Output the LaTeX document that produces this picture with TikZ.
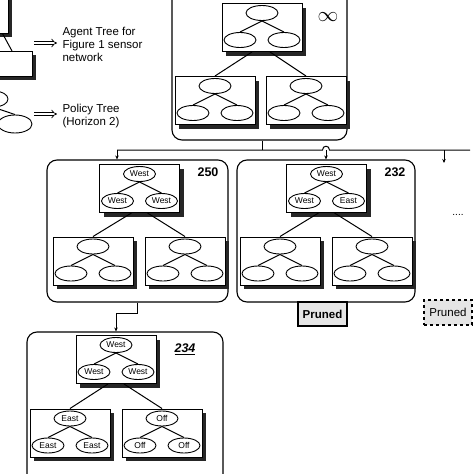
\documentclass[tikz,border=0pt]{standalone}
\usepackage{fontspec}
\setmainfont{Liberation Sans}
\usetikzlibrary{shapes.geometric,shadows,calc,arrows.meta}

\tikzset{
  tbox/.style={draw,line width=1pt,fill=white,minimum width=80pt,minimum height=48pt,
    drop shadow={shadow xshift=4pt,shadow yshift=-4pt,fill=black!85,opacity=1}},
  leaf/.style={draw,ellipse,line width=0.9pt,fill=white,minimum width=32pt,minimum height=15pt,
    inner sep=0.3pt,font=\fontsize{8.5}{8.5}\selectfont},
  grp/.style={draw,line width=1.1pt,rounded corners=10pt,fill=white},
  glabel/.style={font=\fontsize{12.5}{13}\selectfont\bfseries},
  pruned/.style={draw,fill=black!10,minimum width=49pt,minimum height=24pt,inner sep=0pt,
    font=\fontsize{11.5}{12}\selectfont},
  legend/.style={anchor=north west,align=left,inner sep=0pt,font=\fontsize{11.5}{13}\selectfont},
  hollow/.style={double,double distance=2.2pt,line width=0.7pt,-{Implies}},
}

% one policy box: name, centre, top, left, right
\newcommand{\ptree}[5]{%
  \node[tbox] (#1) at (#2) {};
  \node[leaf] (#1-t) at ($(#1.north)+(0,10)$) {#3};
  \node[leaf] (#1-l) at ($(#1.north)+(-22,37)$) {#4};
  \node[leaf] (#1-r) at ($(#1.north)+(22,37)$) {#5};
  \draw (#1-t.south) -- (#1-l.north);
  \draw (#1-t.south) -- (#1-r.north);
}

\begin{document}
\begin{tikzpicture}[x=1pt,y=-1pt,line width=1pt,>={Stealth[length=4pt,width=3.5pt]}]
  \useasboundingbox (0,0) rectangle (474,474);
  \clip (0,0) rectangle (474,474);

  % legend
  \node[tbox,minimum width=56pt,minimum height=42pt] (lgtop) at (-20,12) {};
  \coordinate (lgl) at (12,51);
  \draw ([xshift=-6pt]lgtop.south east) -- (lgl);
  \node[tbox,minimum width=40pt,minimum height=25pt] (lgbot) at (12,63.5) {};
  \node[leaf,minimum width=28pt,minimum height=16pt] (lpt) at (-6,99) {};
  \node[leaf,minimum width=34pt,minimum height=18pt] (lpr) at (15,124) {};
  \node[leaf,minimum width=34pt,minimum height=18pt] (lpl) at (-30,124) {};
  \draw (lpt.south) -- (lpr.north);
  \draw (lpt.south) -- (lpl.north);
  \coordinate (a1) at (34,43);
  \coordinate (a2) at (57,43);
  \coordinate (b1) at (34,114);
  \coordinate (b2) at (57,114);
  \draw[hollow] (a1) -- (a2);
  \draw[hollow] (b1) -- (b2);
  \node[legend] (lagent) at (62,26.5) {Agent Tree for\\Figure 1 sensor\\network};
  \node[legend] (lpolicy) at (62,103.5) {Policy Tree\\(Horizon 2)};

  % root
  \node[grp,minimum width=175pt,minimum height=150pt] (root) at (259.5,65) {};
  \node[inner sep=0pt] (linf) at (328,17) {\fontsize{21}{21}\selectfont$\infty$};
  \ptree{rt}{262,27.5}{}{}{}
  \ptree{rl}{215,100.5}{}{}{}
  \ptree{rr}{306,100.5}{}{}{}
  \draw ([xshift=-10pt]rt.south) -- (rl.north);
  \draw ([xshift=8pt]rt.south) -- (rr.north);

  % 250
  \node[grp,minimum width=181pt,minimum height=142pt] (g250) at (137.5,231) {};
  \node[glabel] (l250) at (208,172) {250};
  \ptree{at}{139.5,188.5}{West}{West}{West}
  \ptree{al}{93,261}{}{}{}
  \ptree{ar}{185,261}{}{}{}
  \draw ([xshift=-8pt]at.south) -- (al.north);
  \draw ([xshift=8pt]at.south) -- (ar.north);

  % 232
  \node[grp,minimum width=178pt,minimum height=142pt] (g232) at (326,231) {};
  \node[glabel] (l232) at (395,172) {232};
  \ptree{bt}{326.5,188.5}{West}{West}{East}
  \ptree{bl}{280,261}{}{}{}
  \ptree{br}{372,261}{}{}{}
  \draw ([xshift=-8pt]bt.south) -- (bl.north);
  \draw ([xshift=8pt]bt.south) -- (br.north);
  \node[pruned,line width=1.2pt,font=\fontsize{11.5}{12}\selectfont\bfseries] (pr) at (322.5,314) {Pruned};
  \node[pruned,dashed,line width=1.2pt,minimum width=48pt,minimum height=25pt] (prd) at (448,312.5) {Pruned};
  \node[font=\fontsize{10}{10}\selectfont] (dots) at (458,215) {....};

  % 234
  \node[grp,minimum width=196pt,minimum height=158pt] (g234) at (125,411) {};
  \node[glabel] (l234) at (185,349) {\underline{\textit{234}}};
  \ptree{ct}{116,359.5}{West}{West}{West}
  \ptree{cl}{70,433}{East}{East}{East}
  \ptree{cr}{162,433}{Off}{Off}{Off}
  \draw ([xshift=-8pt]ct.south) -- (cl.north);
  \draw ([xshift=8pt]ct.south) -- (cr.north);

  % connectors
  \coordinate (bus) at (262,150);
  \coordinate (bw) at (117,150);
  \coordinate (be) at (470,150);
  \coordinate (hop) at (326,150);
  \coordinate (bx) at (444,150);
  \coordinate (bxe) at (444,163);
  \draw (bus |- root.south) -- (bus);
  \draw (bw) -- ($(hop)+(-3.5,0)$) .. controls ($(hop)+(-3.5,-5)$) and ($(hop)+(3.5,-5)$) .. ($(hop)+(3.5,0)$) -- (be);
  \draw[->] (bw) -- (bw |- g250.north);
  \draw[->] (hop) -- (hop |- g232.north);
  \draw[->] (bx) -- (bxe);
  \draw[->] (g250.south) -- ++(0,11) -| (ct.north |- g234.north);
\end{tikzpicture}
\end{document}
